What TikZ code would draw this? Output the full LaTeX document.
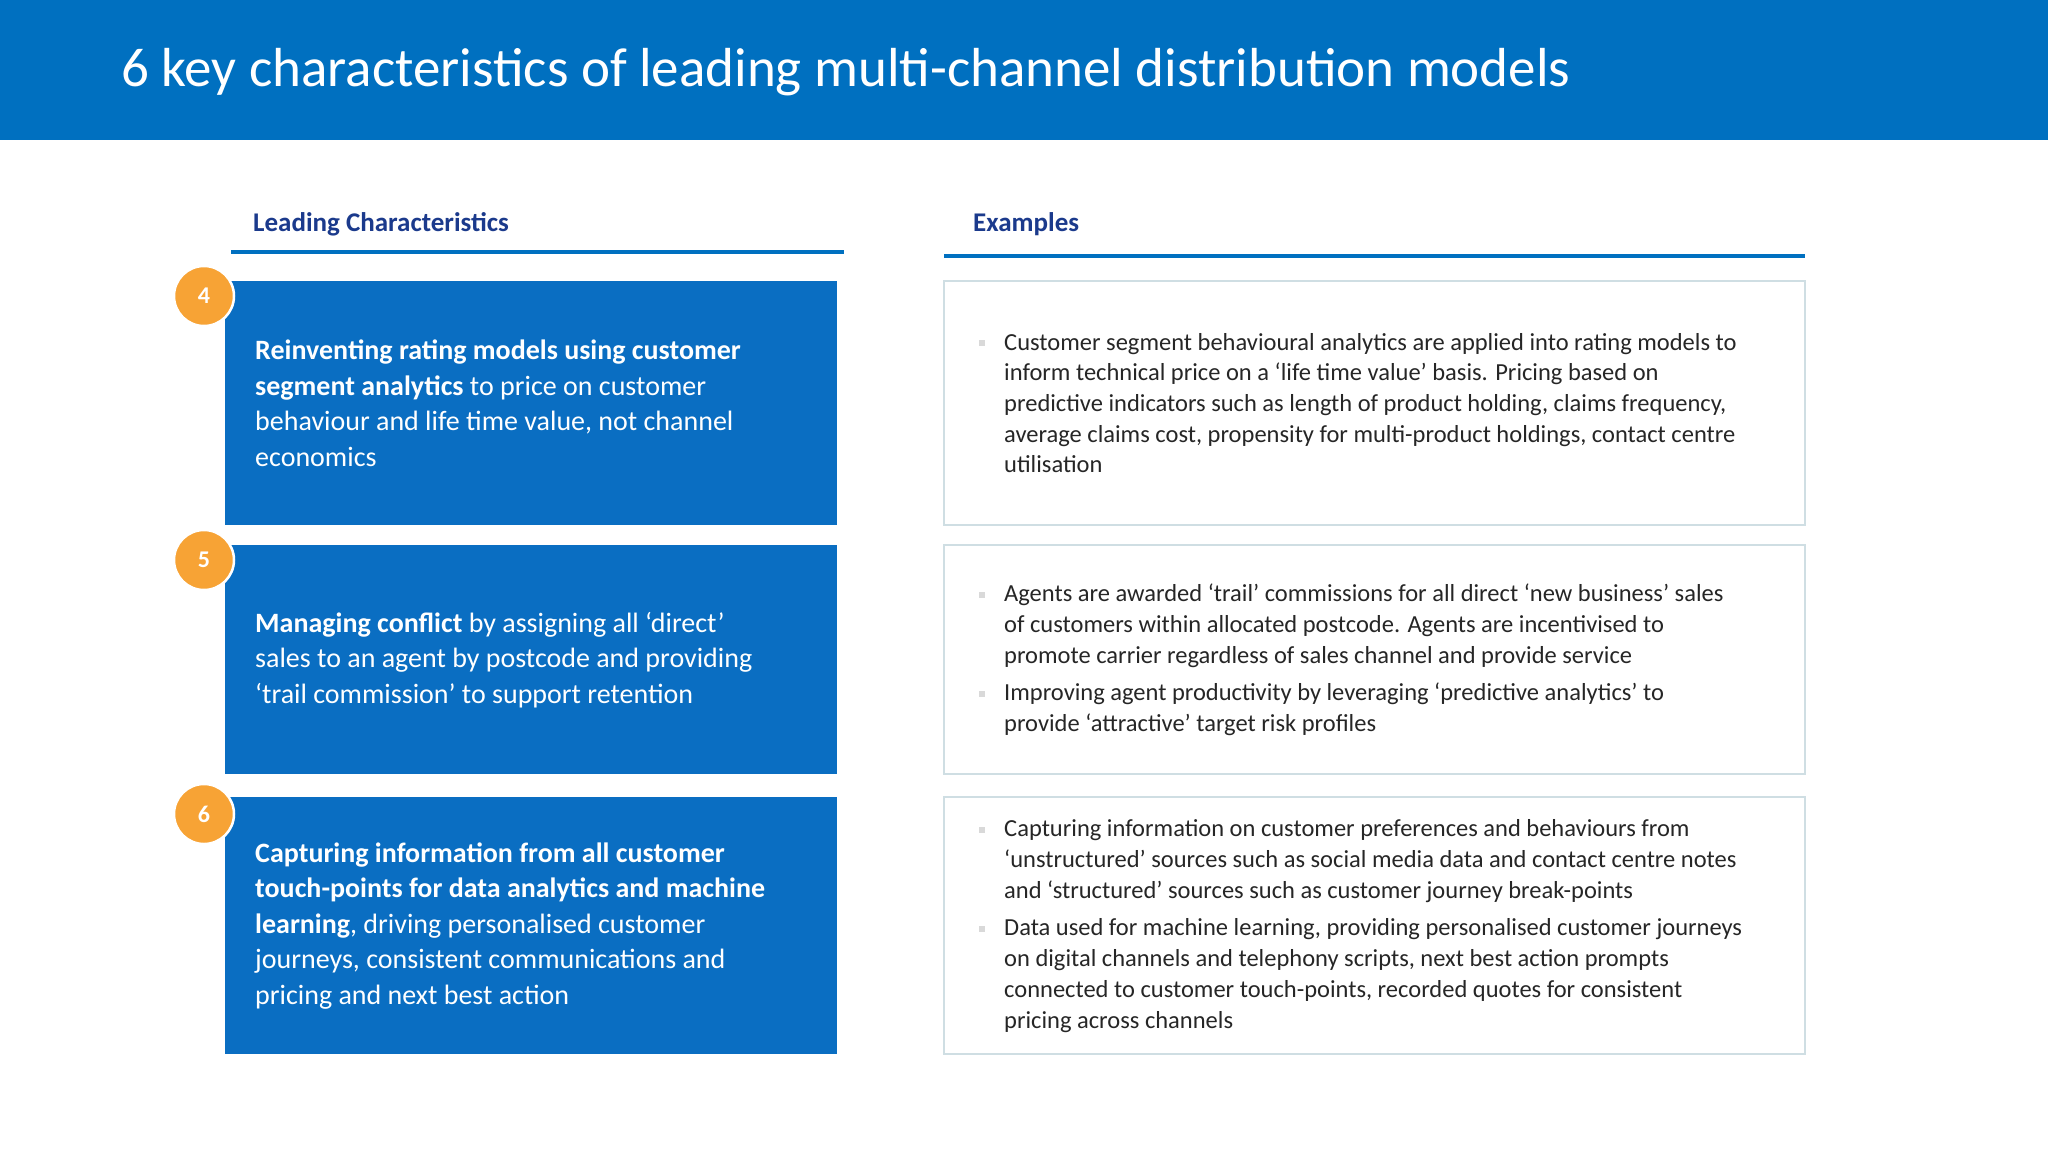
\documentclass[tikz,border=0pt]{standalone}
\usepackage{fontspec}
\setmainfont{Carlito}
\definecolor{hdr}{HTML}{0070C0}
\definecolor{boxb}{HTML}{0A6EC2}
\definecolor{headt}{HTML}{1B3A8C}
\definecolor{orng}{HTML}{F7A335}
\definecolor{bord}{HTML}{CFDEE3}
\definecolor{bulg}{HTML}{D9D9D9}
\definecolor{txt}{HTML}{262626}
\newcommand\itm{\makebox[0pt][r]{\textcolor{bulg}{\rule[4pt]{6pt}{6pt}}\hspace{19pt}}}
\begin{document}
\begin{tikzpicture}[x=1pt,y=-1pt,
  lbox/.style={fill=boxb,draw=none},
  rbox/.style={draw=bord,line width=1.5pt,fill=white},
  num/.style={circle,fill=orng,draw=white,line width=2.5pt,minimum size=60pt,inner sep=0pt,text=white,font=\bfseries\fontsize{24}{28}\selectfont},
  ltext/.style={anchor=west,align=left,text=white,inner sep=0pt,font=\fontsize{28}{35.5}\selectfont},
  rtext/.style={anchor=west,align=left,text=txt,inner sep=0pt,font=\fontsize{24.5}{30.7}\selectfont},
  headl/.style={anchor=base west,text=headt,inner sep=0pt,font=\bfseries\fontsize{27}{32}\selectfont}]
\useasboundingbox (0,0) rectangle (2048,1152);
\fill[white] (0,0) rectangle (2048,1152);
\fill[hdr] (0,0) rectangle (2048,140) node[pos=0,anchor=north west,inner sep=0pt] (hd) {};
\node[anchor=west,text=white,inner sep=0pt,font=\fontsize{55}{60}\selectfont] (title) at (121,72) {6 key characteristics of leading multi-channel distribution models};
\node[headl] (h1) at (253,231) {Leading Characteristics};
\node[headl] (h2) at (973,231) {Examples};
\draw[hdr,line width=4pt] (231,252) coordinate (u1a) -- (844,252) coordinate (u1b);
\draw[hdr,line width=4pt] (944,256) coordinate (u2a) -- (1805,256) coordinate (u2b);
% left boxes
\path[lbox] (225,281) rectangle (837,525);
\path[lbox] (225,545) rectangle (837,774);
\path[lbox] (225,797) rectangle (837,1054);
\path[rbox] (944,281) rectangle (1805,525);
\path[rbox] (944,545) rectangle (1805,774);
\path[rbox] (944,797) rectangle (1805,1054);
\node[num] (n4) at (204,296) {4};
\node[num] (n5) at (204,560) {5};
\node[num] (n6) at (204,814) {6};
\node[ltext] (t4) at (255,403) {\textbf{Reinventing rating models using customer}\\\textbf{segment analytics} to price on customer\\behaviour and life time value, not channel\\economics};
\node[ltext] (t5) at (255,660) {\textbf{Managing conflict} by assigning all ‘direct’\\sales to an agent by postcode and providing\\‘trail commission’ to support retention};
\node[ltext] (t6) at (255,926) {\textbf{Capturing information from all customer}\\\textbf{touch-points for data analytics and machine}\\\textbf{learning}, driving personalised customer\\journeys, consistent communications and\\pricing and next best action};
\node[rtext] (e4) at (1004,403) {\itm Customer segment behavioural analytics are applied into rating models to\\inform technical price on a ‘life time value’ basis. Pricing based on\\predictive indicators such as length of product holding, claims frequency,\\average claims cost, propensity for multi-product holdings, contact centre\\utilisation};
\node[rtext] (e5) at (1004,660) {\itm Agents are awarded ‘trail’ commissions for all direct ‘new business’ sales\\of customers within allocated postcode. Agents are incentivised to\\promote carrier regardless of sales channel and provide service\\[7pt]\itm Improving agent productivity by leveraging ‘predictive analytics’ to\\provide ‘attractive’ target risk profiles};
\node[rtext] (e6) at (1004,926) {\itm Capturing information on customer preferences and behaviours from\\‘unstructured’ sources such as social media data and contact centre notes\\and ‘structured’ sources such as customer journey break-points\\[7pt]\itm Data used for machine learning, providing personalised customer journeys\\on digital channels and telephony scripts, next best action prompts\\connected to customer touch-points, recorded quotes for consistent\\pricing across channels};
\end{tikzpicture}
\end{document}
